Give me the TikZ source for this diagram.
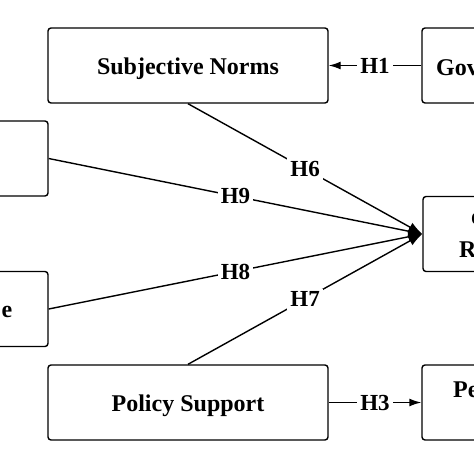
\documentclass[tikz,border=0pt]{standalone}
\usepackage{fontspec}
\setmainfont{Liberation Serif}
\usetikzlibrary{arrows.meta}
\tikzset{
  box/.style={draw, line width=1.4pt, rounded corners=3pt, minimum width=280pt,
    minimum height=75pt, inner sep=0pt, text height=20pt, text depth=3pt,
    font=\bfseries\fontsize{24}{29}\selectfont},
  frag/.style={inner sep=0pt, font=\bfseries\fontsize{24}{29}\selectfont},
  hlab/.style={fill=white, inner sep=3pt, font=\bfseries\fontsize{23}{28}\selectfont},
  arr/.style={line width=1.4pt, -{Latex[length=12pt,width=8pt]}},
  arrb/.style={line width=1.4pt, -{Latex[length=14pt,width=10pt]}}
}
\begin{document}
\begin{tikzpicture}[x=1pt,y=-1pt]
\useasboundingbox (0,0) rectangle (474,474);
% boxes
\node (sn) [box] at (188,65.5) {Subjective Norms};
\node (gov) [box] at (562,65.5) {};
\node (lb1) [box] at (-92,158.5) {};
\node (lb2) [box] at (-92,309) {};
\node (res) [box] at (563,234) {};
\node (ps) [box] at (188,402.5) {Policy Support};
\node (pe) [box] at (562,402.5) {};
% cut labels at the edges
\node (govtxt) [frag, anchor=base west] at (436,75) {Gov};
\node (lb2txt) [frag, anchor=base east] at (12.5,317) {e};
\node (restxt) [frag, anchor=base west] at (471,224) {o};
\node (restxtb) [frag, anchor=base west] at (459,257) {R};
\node (petxt) [frag, anchor=base west] at (453,397) {Pe};
% hypotheses
\draw [arr] (gov) -- node [hlab] {H1} (sn);
\draw [arr] (ps) -- node [hlab] {H3} (pe);
\draw [arrb] (sn.south) -- node [hlab] {H6} (res.west);
\draw [arrb] (lb1.east) -- node [hlab] {H9} (res.west);
\draw [arrb] (lb2.east) -- node [hlab] {H8} (res.west);
\draw [arrb] (ps.north) -- node [hlab] {H7} (res.west);
\end{tikzpicture}
\end{document}
